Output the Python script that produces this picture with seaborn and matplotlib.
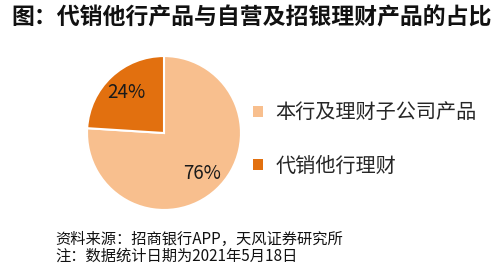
import matplotlib
matplotlib.use("Agg")
import matplotlib.pyplot as plt
import seaborn as sns
from matplotlib.patches import Patch

sns.set_theme(style="white")
plt.rcParams['font.family'] = ['Noto Sans CJK SC', 'DejaVu Sans']

categories = ["本行及理财子公司产品", "代销他行理财"]
values = [76, 24]
colors = ["#F8BF8E", "#E2700F"]
title = "图：代销他行产品与自营及招银理财产品的占比"
notes = ["资料来源：招商银行APP，天风证券研究所", "注：数据统计日期为2021年5月18日"]

fig = plt.figure(figsize=(5.0, 2.72), dpi=100)
ax = fig.add_axes([0.174, 0.228, 0.308, 0.566])
wedges, texts, autotexts = ax.pie(
    values, colors=colors, startangle=90, counterclock=False,
    autopct=lambda p: f"{p:.0f}%", pctdistance=0.72,
    wedgeprops=dict(edgecolor="white", linewidth=1.5),
    textprops=dict(fontsize=13.5, color="#1a1a1a"))
ax.set_aspect("equal")
ax.set_xlim(-1.0, 1.0)
ax.set_ylim(-1.0, 1.0)

handles = [Patch(facecolor=c, edgecolor="none") for c in colors]
fig.legend(handles, categories, loc="center left", bbox_to_anchor=(0.47, 0.487),
           frameon=False, fontsize=14.5, handlelength=0.5, handleheight=0.5,
           handletextpad=0.6, labelspacing=1.6)

fig.text(0.022, 0.935, title, fontsize=16.5, fontweight="bold", va="center", ha="left", color="#111111")
fig.text(0.11, 0.118, notes[0], fontsize=11, va="center", ha="left", color="#111111")
fig.text(0.11, 0.058, notes[1], fontsize=11, va="center", ha="left", color="#111111")

fig.savefig("out.png", dpi=100, facecolor="white")
